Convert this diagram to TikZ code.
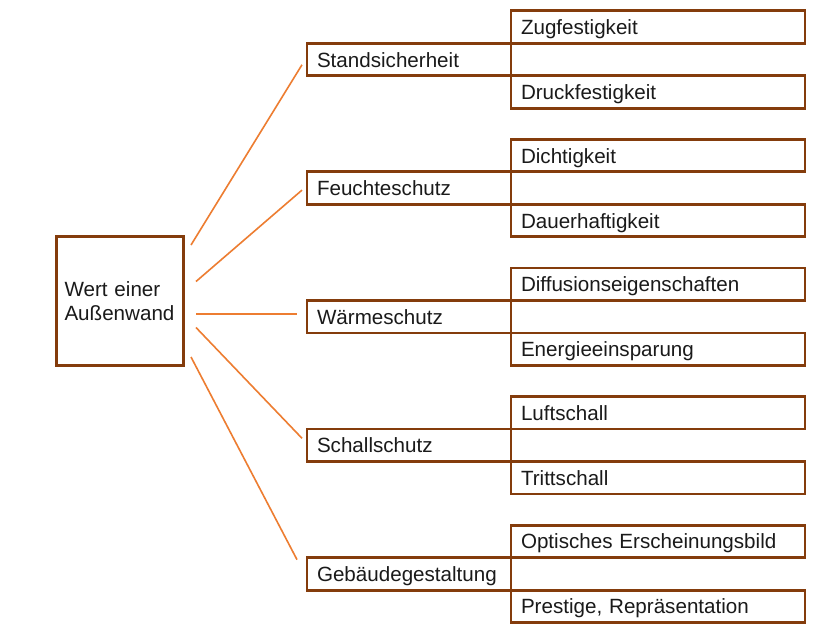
\documentclass[tikz,border=0pt]{standalone}
\usepackage{fontspec}
\setmainfont{Liberation Sans}
\definecolor{boxbrown}{HTML}{843C0C}
\definecolor{lineorange}{HTML}{ED7D31}
\definecolor{txt}{HTML}{1A1A1A}
\begin{document}
\begin{tikzpicture}[x=1pt,y=-1pt,
  basebox/.style={draw=boxbrown, line width=2.8pt, rectangle, inner ysep=0pt, outer sep=0pt,
    align=left, text=txt, font=\fontsize{20.6}{24}\selectfont},
  catbox/.style={basebox, minimum width=204pt, minimum height=32.5pt, inner xsep=10pt, text width=184pt, text height=18pt, text depth=3pt, anchor=west},
  leafbox/.style={basebox, minimum width=294pt, minimum height=32.5pt, inner xsep=10pt, text width=274pt, text height=18pt, text depth=3pt, anchor=west},
  rootbox/.style={basebox, line width=3pt, minimum width=127pt, minimum height=129pt, inner xsep=8pt, text width=111pt, anchor=north west},
  conn/.style={draw=lineorange, line width=1.6pt}
]
\useasboundingbox (0,0) rectangle (830,635);
\fill[white] (0,0) rectangle (830,635);

\node[rootbox] (root) at (56.5,236.5) {Wert einer\\Außenwand};

\node[catbox] (c1) at (307,59.5) {Standsicherheit};
\node[catbox] (c2) at (307,188.1) {Feuchteschutz};
\node[catbox] (c3) at (307,316.7) {Wärmeschutz};
\node[catbox] (c4) at (307,445.3) {Schallschutz};
\node[catbox] (c5) at (307,573.9) {Gebäudegestaltung};

\node[leafbox] (l1a) at (511,27) {Zugfestigkeit};
\node[leafbox] (l1b) at (511,92) {Druckfestigkeit};
\node[leafbox] (l2a) at (511,155.6) {Dichtigkeit};
\node[leafbox] (l2b) at (511,220.6) {Dauerhaftigkeit};
\node[leafbox] (l3a) at (511,284.2) {Diffusionseigenschaften};
\node[leafbox] (l3b) at (511,349.2) {Energieeinsparung};
\node[leafbox] (l4a) at (511,412.8) {Luftschall};
\node[leafbox] (l4b) at (511,477.8) {Trittschall};
\node[leafbox] (l5a) at (511,541.4) {Optisches Erscheinungsbild};
\node[leafbox] (l5b) at (511,606.4) {Prestige, Repräsentation};

\coordinate (s3) at ([shift={(12.5,12.7)}]root.east);
\coordinate (e3) at ([xshift=-10pt]c3.west);

\draw[conn] ([shift={(7.5,8.5)}]root.north east) -- ([shift={(-5,-11)}]c1.south west);
\draw[conn] ([shift={(12.5,-19.5)}]root.east) -- ([shift={(-5,2)}]c2.west);
\draw[conn] (s3) -- (e3 |- s3);
\draw[conn] ([shift={(12.5,26.5)}]root.east) -- ([shift={(-5,-7)}]c4.west);
\draw[conn] ([shift={(7.5,-8.5)}]root.south east) -- ([shift={(-10,2)}]c5.north west);
\end{tikzpicture}
\end{document}
